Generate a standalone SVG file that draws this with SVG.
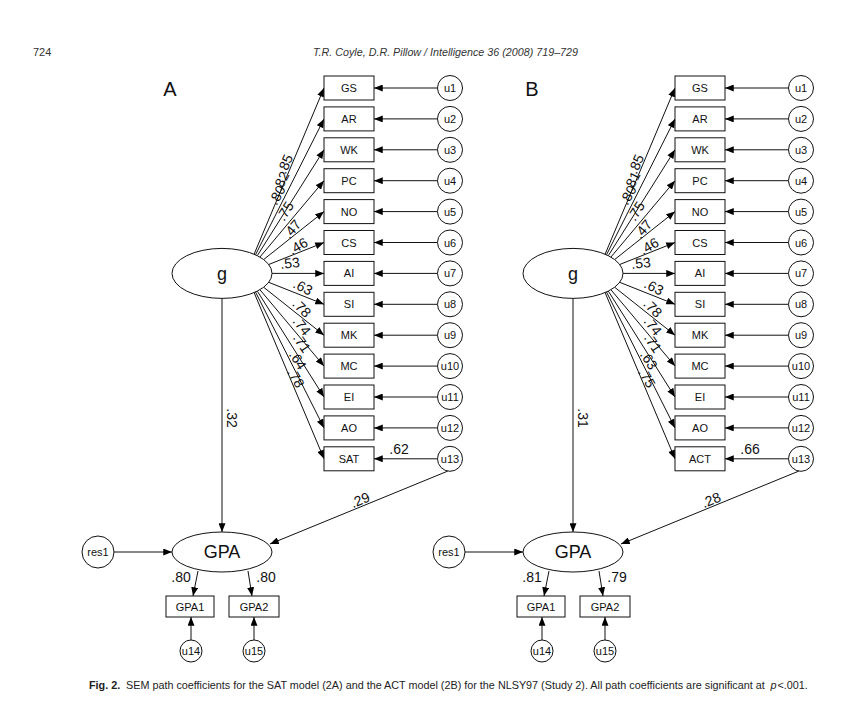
<svg xmlns="http://www.w3.org/2000/svg" width="860" height="706" viewBox="0 0 860 706">
<defs>
<marker id="ah" viewBox="0 0 10 8" refX="10" refY="4" markerWidth="9" markerHeight="7" orient="auto" markerUnits="userSpaceOnUse"><path d="M0,0 L10,4 L0,8 z" fill="#000"/></marker>
<style>
.bx{fill:#fff;stroke:#111;stroke-width:1}
.el{fill:#fff;stroke:#111;stroke-width:1}
.t{font-family:"Liberation Sans",Arial,sans-serif;font-size:11px;text-anchor:middle;dominant-baseline:central;fill:#111}
.big{font-size:18px}
.cf{font-family:"Liberation Sans",Arial,sans-serif;font-size:14px;text-anchor:middle;dominant-baseline:central;fill:#111}
.ed{stroke:#111;stroke-width:1;fill:none;marker-end:url(#ah)}
.hd{font-family:"Liberation Sans",Arial,sans-serif;font-size:11px;fill:#333}
.cap{font-family:"Liberation Sans",Arial,sans-serif;font-size:10.8px;fill:#222}
.pl{font-family:"Liberation Sans",Arial,sans-serif;font-size:20px;fill:#111;text-anchor:middle}
</style>
</defs>
<rect width="860" height="706" fill="#fff"/>
<text class="hd" x="33" y="56">724</text>
<text class="hd" x="313" y="56" font-style="italic" textLength="265" lengthAdjust="spacingAndGlyphs">T.R. Coyle, D.R. Pillow / Intelligence 36 (2008) 719–729</text>
<text class="cap" x="89" y="689" font-weight="bold" font-size="11">Fig. 2.</text>
<text class="cap" x="126" y="689">SEM path coefficients for the SAT model (2A) and the ACT model (2B) for the NLSY97 (Study 2). All path coefficients are significant at</text>
<text class="cap" x="770.5" y="689" font-style="italic">p</text>
<text class="cap" x="777.5" y="689">&lt;.001.</text>

<g id="panelA">
<text class="pl" x="170" y="96">A</text>
<g id="A-connectors">
<line class="ed" x1="254.1" y1="254.2" x2="324" y2="88"/>
<line class="ed" x1="255.5" y1="254.8" x2="324" y2="118.9"/>
<line class="ed" x1="257.3" y1="255.7" x2="324" y2="149.8"/>
<line class="ed" x1="259.9" y1="257.1" x2="324" y2="180.7"/>
<line class="ed" x1="263.6" y1="259.6" x2="324" y2="211.6"/>
<line class="ed" x1="268.7" y1="264.5" x2="324" y2="242.5"/>
<line class="ed" x1="272" y1="273.4" x2="324" y2="273.4"/>
<line class="ed" x1="268.7" y1="282.3" x2="324" y2="304.3"/>
<line class="ed" x1="263.6" y1="287.2" x2="324" y2="335.2"/>
<line class="ed" x1="259.9" y1="289.7" x2="324" y2="366.1"/>
<line class="ed" x1="257.3" y1="291.1" x2="324" y2="397"/>
<line class="ed" x1="255.5" y1="292" x2="324" y2="427.9"/>
<line class="ed" x1="254.1" y1="292.6" x2="324" y2="458.8"/>
<line class="ed" x1="437.5" y1="88" x2="374" y2="88"/>
<line class="ed" x1="437.5" y1="118.9" x2="374" y2="118.9"/>
<line class="ed" x1="437.5" y1="149.8" x2="374" y2="149.8"/>
<line class="ed" x1="437.5" y1="180.7" x2="374" y2="180.7"/>
<line class="ed" x1="437.5" y1="211.6" x2="374" y2="211.6"/>
<line class="ed" x1="437.5" y1="242.5" x2="374" y2="242.5"/>
<line class="ed" x1="437.5" y1="273.4" x2="374" y2="273.4"/>
<line class="ed" x1="437.5" y1="304.3" x2="374" y2="304.3"/>
<line class="ed" x1="437.5" y1="335.2" x2="374" y2="335.2"/>
<line class="ed" x1="437.5" y1="366.1" x2="374" y2="366.1"/>
<line class="ed" x1="437.5" y1="397" x2="374" y2="397"/>
<line class="ed" x1="437.5" y1="427.9" x2="374" y2="427.9"/>
<line class="ed" x1="437.5" y1="458.8" x2="374" y2="458.8"/>
<line class="ed" x1="222" y1="298.4" x2="222" y2="532"/>
<line class="ed" x1="448" y1="471" x2="270" y2="544"/>
<line class="ed" x1="114" y1="552" x2="172" y2="552"/>
<line class="ed" x1="198" y1="571" x2="193" y2="596"/>
<line class="ed" x1="248" y1="571" x2="252" y2="596"/>
<line class="ed" x1="191" y1="640" x2="191" y2="617"/>
<line class="ed" x1="254" y1="640" x2="254" y2="617"/>
<text class="cf" transform="translate(285,164) rotate(-66)">.85</text>
<text class="cf" transform="translate(281,181) rotate(-63)">.82</text>
<text class="cf" transform="translate(277,195) rotate(-60)">.80</text>
<text class="cf" transform="translate(285,211) rotate(-57)">.75</text>
<text class="cf" transform="translate(292,229) rotate(-50)">.47</text>
<text class="cf" transform="translate(298,246) rotate(-30)">.46</text>
<text class="cf" transform="translate(290,263) rotate(-6)">.53</text>
<text class="cf" transform="translate(303,287) rotate(27)">.63</text>
<text class="cf" transform="translate(302,308) rotate(45)">.78</text>
<text class="cf" transform="translate(302,326) rotate(52)">.74</text>
<text class="cf" transform="translate(302,343) rotate(56)">.71</text>
<text class="cf" transform="translate(298,360) rotate(58)">.64</text>
<text class="cf" transform="translate(296,378) rotate(60)">.78</text>
<text class="cf" transform="translate(232,418) rotate(90)">.32</text>
<text class="cf" x="399" y="449">.62</text>
<text class="cf" transform="translate(360,500) rotate(-22.7)">.29</text>
<text class="cf" x="181" y="577">.80</text>
<text class="cf" x="266" y="577">.80</text>
</g>
<g id="A-g"><ellipse class="el" cx="222" cy="273.4" rx="50" ry="25"/><text class="t big" x="222" y="274">g</text></g>
<g id="A-GS"><rect class="bx" x="324" y="76" width="50" height="24"/><text class="t" x="349" y="88">GS</text></g>
<g id="A-AR"><rect class="bx" x="324" y="106.9" width="50" height="24"/><text class="t" x="349" y="118.9">AR</text></g>
<g id="A-WK"><rect class="bx" x="324" y="137.8" width="50" height="24"/><text class="t" x="349" y="149.8">WK</text></g>
<g id="A-PC"><rect class="bx" x="324" y="168.7" width="50" height="24"/><text class="t" x="349" y="180.7">PC</text></g>
<g id="A-NO"><rect class="bx" x="324" y="199.6" width="50" height="24"/><text class="t" x="349" y="211.6">NO</text></g>
<g id="A-CS"><rect class="bx" x="324" y="230.5" width="50" height="24"/><text class="t" x="349" y="242.5">CS</text></g>
<g id="A-AI"><rect class="bx" x="324" y="261.4" width="50" height="24"/><text class="t" x="349" y="273.4">AI</text></g>
<g id="A-SI"><rect class="bx" x="324" y="292.3" width="50" height="24"/><text class="t" x="349" y="304.3">SI</text></g>
<g id="A-MK"><rect class="bx" x="324" y="323.2" width="50" height="24"/><text class="t" x="349" y="335.2">MK</text></g>
<g id="A-MC"><rect class="bx" x="324" y="354.1" width="50" height="24"/><text class="t" x="349" y="366.1">MC</text></g>
<g id="A-EI"><rect class="bx" x="324" y="385" width="50" height="24"/><text class="t" x="349" y="397">EI</text></g>
<g id="A-AO"><rect class="bx" x="324" y="415.9" width="50" height="24"/><text class="t" x="349" y="427.9">AO</text></g>
<g id="A-SAT"><rect class="bx" x="324" y="446.8" width="50" height="24"/><text class="t" x="349" y="458.8">SAT</text></g>
<g id="A-u1"><circle class="el" cx="450" cy="88" r="12.5"/><text class="t" x="450" y="88">u1</text></g>
<g id="A-u2"><circle class="el" cx="450" cy="118.9" r="12.5"/><text class="t" x="450" y="118.9">u2</text></g>
<g id="A-u3"><circle class="el" cx="450" cy="149.8" r="12.5"/><text class="t" x="450" y="149.8">u3</text></g>
<g id="A-u4"><circle class="el" cx="450" cy="180.7" r="12.5"/><text class="t" x="450" y="180.7">u4</text></g>
<g id="A-u5"><circle class="el" cx="450" cy="211.6" r="12.5"/><text class="t" x="450" y="211.6">u5</text></g>
<g id="A-u6"><circle class="el" cx="450" cy="242.5" r="12.5"/><text class="t" x="450" y="242.5">u6</text></g>
<g id="A-u7"><circle class="el" cx="450" cy="273.4" r="12.5"/><text class="t" x="450" y="273.4">u7</text></g>
<g id="A-u8"><circle class="el" cx="450" cy="304.3" r="12.5"/><text class="t" x="450" y="304.3">u8</text></g>
<g id="A-u9"><circle class="el" cx="450" cy="335.2" r="12.5"/><text class="t" x="450" y="335.2">u9</text></g>
<g id="A-u10"><circle class="el" cx="450" cy="366.1" r="12.5"/><text class="t" x="450" y="366.1">u10</text></g>
<g id="A-u11"><circle class="el" cx="450" cy="397" r="12.5"/><text class="t" x="450" y="397">u11</text></g>
<g id="A-u12"><circle class="el" cx="450" cy="427.9" r="12.5"/><text class="t" x="450" y="427.9">u12</text></g>
<g id="A-u13"><circle class="el" cx="450" cy="458.8" r="12.5"/><text class="t" x="450" y="458.8">u13</text></g>
<g id="A-GPA"><ellipse class="el" cx="222" cy="552" rx="50" ry="20"/><text class="t big" x="222" y="552">GPA</text></g>
<g id="A-res1"><circle class="el" cx="98" cy="552" r="16"/><text class="t" x="98" y="552">res1</text></g>
<g id="A-GPA1"><rect class="bx" x="166" y="596" width="48" height="21"/><text class="t" x="190" y="606.5">GPA1</text></g>
<g id="A-GPA2"><rect class="bx" x="229" y="596" width="50" height="21"/><text class="t" x="254" y="606.5">GPA2</text></g>
<g id="A-u14"><circle class="el" cx="191" cy="651" r="11"/><text class="t" x="191" y="651">u14</text></g>
<g id="A-u15"><circle class="el" cx="254" cy="651" r="11"/><text class="t" x="254" y="651">u15</text></g>
</g>

<g id="panelB" transform="translate(351,0)">
<text class="pl" x="181" y="96">B</text>
<g id="B-connectors">
<line class="ed" x1="254.1" y1="254.2" x2="324" y2="88"/>
<line class="ed" x1="255.5" y1="254.8" x2="324" y2="118.9"/>
<line class="ed" x1="257.3" y1="255.7" x2="324" y2="149.8"/>
<line class="ed" x1="259.9" y1="257.1" x2="324" y2="180.7"/>
<line class="ed" x1="263.6" y1="259.6" x2="324" y2="211.6"/>
<line class="ed" x1="268.7" y1="264.5" x2="324" y2="242.5"/>
<line class="ed" x1="272" y1="273.4" x2="324" y2="273.4"/>
<line class="ed" x1="268.7" y1="282.3" x2="324" y2="304.3"/>
<line class="ed" x1="263.6" y1="287.2" x2="324" y2="335.2"/>
<line class="ed" x1="259.9" y1="289.7" x2="324" y2="366.1"/>
<line class="ed" x1="257.3" y1="291.1" x2="324" y2="397"/>
<line class="ed" x1="255.5" y1="292" x2="324" y2="427.9"/>
<line class="ed" x1="254.1" y1="292.6" x2="324" y2="458.8"/>
<line class="ed" x1="437.5" y1="88" x2="374" y2="88"/>
<line class="ed" x1="437.5" y1="118.9" x2="374" y2="118.9"/>
<line class="ed" x1="437.5" y1="149.8" x2="374" y2="149.8"/>
<line class="ed" x1="437.5" y1="180.7" x2="374" y2="180.7"/>
<line class="ed" x1="437.5" y1="211.6" x2="374" y2="211.6"/>
<line class="ed" x1="437.5" y1="242.5" x2="374" y2="242.5"/>
<line class="ed" x1="437.5" y1="273.4" x2="374" y2="273.4"/>
<line class="ed" x1="437.5" y1="304.3" x2="374" y2="304.3"/>
<line class="ed" x1="437.5" y1="335.2" x2="374" y2="335.2"/>
<line class="ed" x1="437.5" y1="366.1" x2="374" y2="366.1"/>
<line class="ed" x1="437.5" y1="397" x2="374" y2="397"/>
<line class="ed" x1="437.5" y1="427.9" x2="374" y2="427.9"/>
<line class="ed" x1="437.5" y1="458.8" x2="374" y2="458.8"/>
<line class="ed" x1="222" y1="298.4" x2="222" y2="532"/>
<line class="ed" x1="448" y1="471" x2="270" y2="544"/>
<line class="ed" x1="114" y1="552" x2="172" y2="552"/>
<line class="ed" x1="198" y1="571" x2="193" y2="596"/>
<line class="ed" x1="248" y1="571" x2="252" y2="596"/>
<line class="ed" x1="191" y1="640" x2="191" y2="617"/>
<line class="ed" x1="254" y1="640" x2="254" y2="617"/>
<text class="cf" transform="translate(285,164) rotate(-66)">.85</text>
<text class="cf" transform="translate(281,181) rotate(-63)">.81</text>
<text class="cf" transform="translate(277,195) rotate(-60)">.80</text>
<text class="cf" transform="translate(285,211) rotate(-57)">.75</text>
<text class="cf" transform="translate(292,229) rotate(-50)">.47</text>
<text class="cf" transform="translate(298,246) rotate(-30)">.46</text>
<text class="cf" transform="translate(290,263) rotate(-6)">.53</text>
<text class="cf" transform="translate(303,287) rotate(27)">.63</text>
<text class="cf" transform="translate(302,308) rotate(45)">.78</text>
<text class="cf" transform="translate(302,326) rotate(52)">.74</text>
<text class="cf" transform="translate(302,343) rotate(56)">.71</text>
<text class="cf" transform="translate(298,360) rotate(58)">.63</text>
<text class="cf" transform="translate(296,378) rotate(60)">.75</text>
<text class="cf" transform="translate(232,418) rotate(90)">.31</text>
<text class="cf" x="399" y="449">.66</text>
<text class="cf" transform="translate(360,500) rotate(-22.7)">.28</text>
<text class="cf" x="181" y="577">.81</text>
<text class="cf" x="266" y="577">.79</text>
</g>
<g id="B-g"><ellipse class="el" cx="222" cy="273.4" rx="50" ry="25"/><text class="t big" x="222" y="274">g</text></g>
<g id="B-GS"><rect class="bx" x="324" y="76" width="50" height="24"/><text class="t" x="349" y="88">GS</text></g>
<g id="B-AR"><rect class="bx" x="324" y="106.9" width="50" height="24"/><text class="t" x="349" y="118.9">AR</text></g>
<g id="B-WK"><rect class="bx" x="324" y="137.8" width="50" height="24"/><text class="t" x="349" y="149.8">WK</text></g>
<g id="B-PC"><rect class="bx" x="324" y="168.7" width="50" height="24"/><text class="t" x="349" y="180.7">PC</text></g>
<g id="B-NO"><rect class="bx" x="324" y="199.6" width="50" height="24"/><text class="t" x="349" y="211.6">NO</text></g>
<g id="B-CS"><rect class="bx" x="324" y="230.5" width="50" height="24"/><text class="t" x="349" y="242.5">CS</text></g>
<g id="B-AI"><rect class="bx" x="324" y="261.4" width="50" height="24"/><text class="t" x="349" y="273.4">AI</text></g>
<g id="B-SI"><rect class="bx" x="324" y="292.3" width="50" height="24"/><text class="t" x="349" y="304.3">SI</text></g>
<g id="B-MK"><rect class="bx" x="324" y="323.2" width="50" height="24"/><text class="t" x="349" y="335.2">MK</text></g>
<g id="B-MC"><rect class="bx" x="324" y="354.1" width="50" height="24"/><text class="t" x="349" y="366.1">MC</text></g>
<g id="B-EI"><rect class="bx" x="324" y="385" width="50" height="24"/><text class="t" x="349" y="397">EI</text></g>
<g id="B-AO"><rect class="bx" x="324" y="415.9" width="50" height="24"/><text class="t" x="349" y="427.9">AO</text></g>
<g id="B-ACT"><rect class="bx" x="324" y="446.8" width="50" height="24"/><text class="t" x="349" y="458.8">ACT</text></g>
<g id="B-u1"><circle class="el" cx="450" cy="88" r="12.5"/><text class="t" x="450" y="88">u1</text></g>
<g id="B-u2"><circle class="el" cx="450" cy="118.9" r="12.5"/><text class="t" x="450" y="118.9">u2</text></g>
<g id="B-u3"><circle class="el" cx="450" cy="149.8" r="12.5"/><text class="t" x="450" y="149.8">u3</text></g>
<g id="B-u4"><circle class="el" cx="450" cy="180.7" r="12.5"/><text class="t" x="450" y="180.7">u4</text></g>
<g id="B-u5"><circle class="el" cx="450" cy="211.6" r="12.5"/><text class="t" x="450" y="211.6">u5</text></g>
<g id="B-u6"><circle class="el" cx="450" cy="242.5" r="12.5"/><text class="t" x="450" y="242.5">u6</text></g>
<g id="B-u7"><circle class="el" cx="450" cy="273.4" r="12.5"/><text class="t" x="450" y="273.4">u7</text></g>
<g id="B-u8"><circle class="el" cx="450" cy="304.3" r="12.5"/><text class="t" x="450" y="304.3">u8</text></g>
<g id="B-u9"><circle class="el" cx="450" cy="335.2" r="12.5"/><text class="t" x="450" y="335.2">u9</text></g>
<g id="B-u10"><circle class="el" cx="450" cy="366.1" r="12.5"/><text class="t" x="450" y="366.1">u10</text></g>
<g id="B-u11"><circle class="el" cx="450" cy="397" r="12.5"/><text class="t" x="450" y="397">u11</text></g>
<g id="B-u12"><circle class="el" cx="450" cy="427.9" r="12.5"/><text class="t" x="450" y="427.9">u12</text></g>
<g id="B-u13"><circle class="el" cx="450" cy="458.8" r="12.5"/><text class="t" x="450" y="458.8">u13</text></g>
<g id="B-GPA"><ellipse class="el" cx="222" cy="552" rx="50" ry="20"/><text class="t big" x="222" y="552">GPA</text></g>
<g id="B-res1"><circle class="el" cx="98" cy="552" r="16"/><text class="t" x="98" y="552">res1</text></g>
<g id="B-GPA1"><rect class="bx" x="166" y="596" width="48" height="21"/><text class="t" x="190" y="606.5">GPA1</text></g>
<g id="B-GPA2"><rect class="bx" x="229" y="596" width="50" height="21"/><text class="t" x="254" y="606.5">GPA2</text></g>
<g id="B-u14"><circle class="el" cx="191" cy="651" r="11"/><text class="t" x="191" y="651">u14</text></g>
<g id="B-u15"><circle class="el" cx="254" cy="651" r="11"/><text class="t" x="254" y="651">u15</text></g>
</g>
</svg>
